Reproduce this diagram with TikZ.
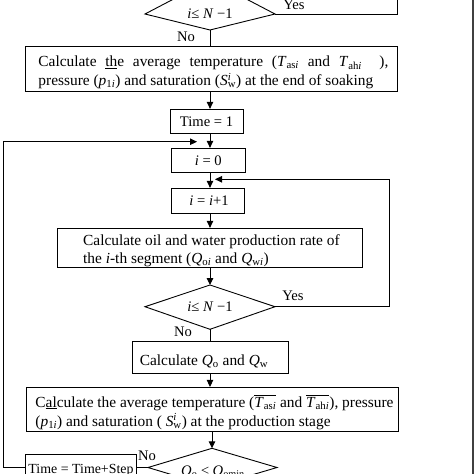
\documentclass[tikz,border=0pt]{standalone}
\usepackage{fontspec}
\setmainfont{Liberation Serif}
\usetikzlibrary{arrows.meta,calc}
\newcommand{\fszL}{\fontsize{15.4}{19}\selectfont}
\newcommand{\fszS}{\fontsize{14.6}{18}\selectfont}
\newcommand{\fszT}{\fontsize{13.9}{17}\selectfont}
\newcommand{\Sw}{\textit{S}\rlap{\textsuperscript{\textit{i}}}\textsubscript{w}}
\begin{document}
\begin{tikzpicture}[x=1pt,y=-1pt,line width=0.9pt,
  frame/.style={draw,rectangle,inner sep=0pt},
  ltxt/.style={font=\fszL,inner sep=0pt,anchor=base west},
  stxt/.style={font=\fszS,inner sep=0pt,anchor=base},
  arr/.style={-{Triangle[length=7pt,width=6.5pt]}}]
\useasboundingbox (0,0) rectangle (474,474);
\clip (0,0) rectangle (474,474);
% guide coordinates
\coordinate (m) at (210,0);
\coordinate (m2) at (212,0);
\coordinate (lx) at (3,0);
\coordinate (lp) at (197,141.7);
\coordinate (yx) at (389.3,0);
\coordinate (yp) at (215,179.3);
\coordinate (y1top) at (397,-5);
% diamond 1
\coordinate (d1w) at (145,14); \coordinate (d1n) at (210,-20);
\coordinate (d1e) at (275,14); \coordinate (d1s) at (210,30);
\draw (d1w)--(d1n)--(d1e)--(d1s)--cycle;
\node[stxt] (d1t) at (210,18.5) {\textit{i}≤ \textit{N} −1};
\node[stxt] (yes1) at (294,9.5) {Yes};
\node[stxt] (no1) at (186,41.7) {No};
% box 1
\node[frame,minimum width=372pt,minimum height=44.3pt] (b1) at (211.7,68.8) {};
\node[ltxt] (b1a) at (38,66.5) {\makebox[350pt][s]{Calculate \underline{th}e average temperature (\textit{T}\textsubscript{as\textit{i}} and \textit{T}\textsubscript{ah\textit{i}}\ \ ),}};
\node[ltxt] (b1b) at (38,85.5) {pressure (\textit{p}\textsubscript{1\textit{i}}) and saturation (\Sw) at the end of soaking};
% small boxes
\node[frame,minimum width=73pt,minimum height=24pt] (t1) at (206.5,121.3) {};
\node[stxt] (t1t) at (206.5,126) {Time = 1};
\node[frame,minimum width=73.3pt,minimum height=24.4pt] (i0) at (208.3,160.5) {};
\node[stxt] (i0t) at (208.3,165) {\textit{i} = 0};
\node[frame,minimum width=73pt,minimum height=25pt] (ii) at (207.5,200.8) {};
\node[stxt] (iit) at (209,205) {\textit{i} = \textit{i}+1};
% box 3
\node[frame,minimum width=304.6pt,minimum height=39.4pt] (b3) at (210,248) {};
\node[ltxt] (b3a) at (82.7,245) {Calculate oil and water production rate of};
\node[ltxt] (b3b) at (82.7,263.5) {the \textit{i}-th segment (\textit{Q}\textsubscript{o\textit{i}} and \textit{Q}\textsubscript{w\textit{i}})};
% diamond 2
\coordinate (d2w) at (145,306.7); \coordinate (d2n) at (210,285);
\coordinate (d2e) at (275,306.7); \coordinate (d2s) at (210,329.3);
\draw (d2w)--(d2n)--(d2e)--(d2s)--cycle;
\node[stxt] (d2t) at (210,311.5) {\textit{i}≤ \textit{N} −1};
\node[stxt] (yes2) at (293,300) {Yes};
\node[stxt] (no2) at (183,336.7) {No};
% box 4
\node[frame,minimum width=155.6pt,minimum height=32.3pt] (b4) at (210.5,357.2) {};
\node[ltxt,anchor=base] (b4t) at (204,365) {Calculate \textit{Q}\textsubscript{o} and \textit{Q}\textsubscript{w}};
% box 5
\node[frame,minimum width=371.6pt,minimum height=43.7pt] (b5) at (212.5,409.2) {};
\node[ltxt] (b5a) at (35,407) {C\underline{al}culate the average temperature ($\overline{\hbox{\textit{T}\textsubscript{as\textit{i}}}}$ and $\overline{\hbox{\textit{T}\textsubscript{ah\textit{i}}}}$), pressure};
\node[ltxt] (b5b) at (35,426) {(\textit{p}\textsubscript{1\textit{i}}) and saturation (~\Sw) at the production stage};
% diamond 3
\coordinate (d3w) at (148,467.5); \coordinate (d3n) at (212,448.3);
\coordinate (d3e) at (277,467.5); \coordinate (d3s) at (212,486.7);
\draw (d3w)--(d3n)--(d3e)--(d3s)--cycle;
\node[stxt] (d3t) at (213,475) {\textit{Q}\textsubscript{o} ≤ \textit{Q}\textsubscript{omin}};
\node[stxt] (no3) at (147,460) {No};
% time step box
\node[frame,minimum width=111pt,minimum height=25.4pt] (t6) at (81.2,467.5) {};
\node[stxt,font=\fszT] (t6t) at (81,473) {Time = Time+Step};
% connectors
\draw (d1e) -| (y1top);
\draw (d1s) -- (b1.north -| d1s);
\draw[arr] (b1.south -| m) -- (t1.north -| m);
\draw[arr] (t1.south -| m) -- (i0.north -| m);
\draw[arr] (i0.south -| m) -- (ii.north -| m);
\draw[arr] (ii.south -| m) -- (b3.north -| m);
\draw[arr] (b3.south -| m) -- (d2n);
\draw[arr] (d2e) -- (d2e -| yx) |- (yp);
\draw (d2s) -- (b4.north -| d2s);
\draw[arr] (b4.south -| m) -- (b5.north -| m);
\draw[arr] (b5.south -| m2) -- (d3n);
\draw (d3w) -- (t6.east);
\draw[arr] (t6.west) -- (t6.west -| lx) |- (lp);
% right edge
\draw[line width=2pt,black!75] (472.7,0) -- (472.7,474);
\end{tikzpicture}
\end{document}
